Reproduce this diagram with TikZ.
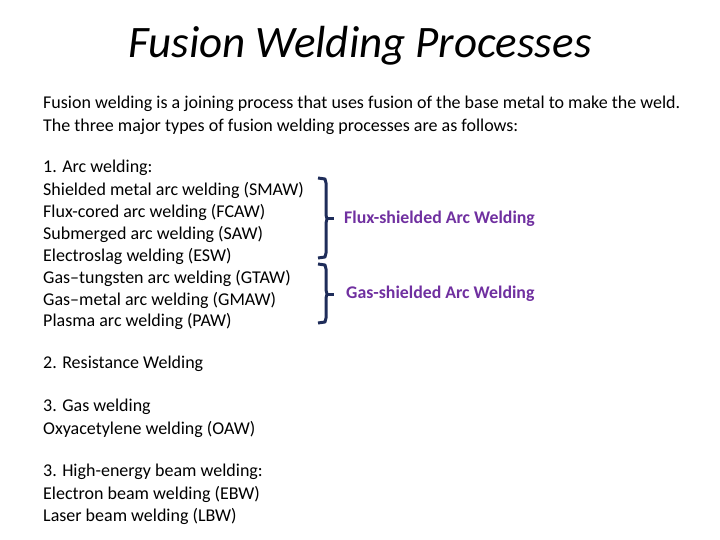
\documentclass[tikz,border=0pt]{standalone}
\usepackage{fontspec}
\setmainfont{Carlito}
\definecolor{navy}{RGB}{31,45,90}
\definecolor{purp}{RGB}{112,48,160}
\begin{document}
\begin{tikzpicture}[x=1pt,y=-1pt,
  line/.style={anchor=west,inner sep=0pt,font=\fontsize{18}{20}\selectfont},
  lab/.style={anchor=west,inner sep=0pt,font=\fontsize{17.8}{20}\selectfont\bfseries,text=purp},
  brace/.style={draw=navy,line width=3pt,line join=round}]
\useasboundingbox (0,0) rectangle (720,540);
\node[inner sep=0pt,font=\fontsize{45}{48}\selectfont\itshape] (title) at (360,46) {Fusion Welding Processes};
\node[line] (i1) at (43,104) {Fusion welding is a joining process that uses fusion of the base metal to make the weld.};
\node[line] (i2) at (43,127) {The three major types of fusion welding processes are as follows:};
\node[line] (a0) at (43,168) {1. Arc welding:};
\node[line] (a1) at (43,190) {Shielded metal arc welding (SMAW)};
\node[line] (a2) at (43,212) {Flux-cored arc welding (FCAW)};
\node[line] (a3) at (43,234) {Submerged arc welding (SAW)};
\node[line] (a4) at (43,256) {Electroslag welding (ESW)};
\node[line] (a5) at (43,278) {Gas--tungsten arc welding (GTAW)};
\node[line] (a6) at (43,300) {Gas--metal arc welding (GMAW)};
\node[line] (a7) at (43,321) {Plasma arc welding (PAW)};
\node[line] (r0) at (43,364) {2. Resistance Welding};
\node[line] (g0) at (43,407) {3. Gas welding};
\node[line] (g1) at (43,429) {Oxyacetylene welding (OAW)};
\node[line] (h0) at (43,472) {3. High-energy beam welding:};
\node[line] (h1) at (43,494) {Electron beam welding (EBW)};
\node[line] (h2) at (43,516) {Laser beam welding (LBW)};
% braces
\draw[brace] (318,178) -- (325,179) -- (326,183) -- (326,215) -- (327,219) -- (326,223) -- (326,253) -- (325,257) -- (318,258);
\draw[brace] (327,219) -- (334,219);
\draw[brace] (318,264) -- (325,265) -- (326,269) -- (326,290) -- (327,294) -- (326,298) -- (326,318) -- (325,322) -- (318,323);
\draw[brace] (327,294) -- (334,294);
\node[lab] (f) at (344,219) {Flux-shielded Arc Welding};
\node[lab] (g) at (346,294) {Gas-shielded Arc Welding};
\end{tikzpicture}
\end{document}
